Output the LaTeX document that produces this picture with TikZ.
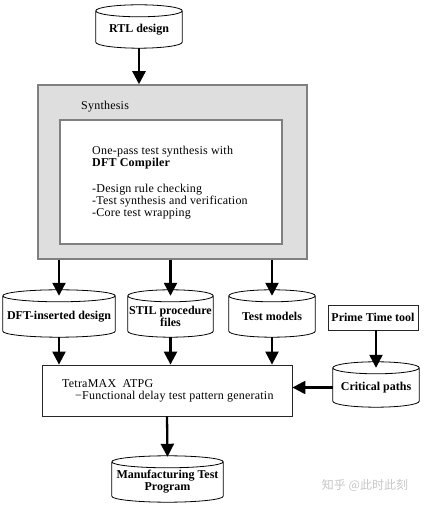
\documentclass[tikz,border=0pt]{standalone}
\usepackage{fontspec}
\setmainfont{Liberation Serif}
\newfontfamily\cjk{Noto Sans CJK SC}
\newfontfamily\spaced[LetterSpace=1.8]{Liberation Serif}
\usetikzlibrary{arrows.meta,calc}
\begin{document}
\begin{tikzpicture}[x=1pt,y=1pt,
  cyl/.style={inner sep=0pt, font=\fontsize{12}{12}\selectfont\bfseries, align=center},
  cylline/.style={draw=black, line width=0.8pt},
  plainbox/.style={draw=black!85, line width=0.8pt, inner sep=0pt},
  flow/.style={line width=2.3pt, -{Triangle[width=13pt,length=13pt]}},
  txt/.style={font=\spaced\fontsize{12}{12}\selectfont, inner sep=0pt, align=left}
]
\useasboundingbox (0,0) rectangle (425,505);
\fill[white] (0,0) rectangle (425,505);

% Synthesis area
\node[draw=black!50, fill=black!13, line width=1.5pt, minimum width=269pt, minimum height=174pt, inner sep=0pt] (synth) at (172.5,333) {};
\node[draw=black!50, fill=white, line width=1.2pt, minimum width=222pt, minimum height=124pt, inner sep=0pt] (inner) at (171,323) {};
\node[txt, anchor=west] (synlab) at (81,398) {Synthesis};
\node[txt, anchor=north west] (syntext) at (92,359) {One-pass test synthesis with\\
\textbf{DFT Compiler}\\[14pt]
-Design rule checking\\
-Test synthesis and verification\\
-Core test wrapping};

% cylinders (node = body, outline drawn below)
\node[cyl, minimum width=86pt, minimum height=25pt] (rtl) at (139,475.5) {RTL design};
\node[cyl, minimum width=112pt, minimum height=29pt] (dft) at (59,188.5) {DFT-inserted design};
\node[cyl, minimum width=85pt, minimum height=29pt] (stil) at (170.5,188.5) {STIL procedure\\files};
\node[cyl, minimum width=86pt, minimum height=29pt] (tm) at (272,188.5) {Test models};
\node[cyl, minimum width=86pt, minimum height=27pt] (crit) at (376,117.5) {Critical paths};
\node[cyl, minimum width=111pt, minimum height=28pt] (mtp) at (167.5,23) {Manufacturing Test\\Program};

\foreach \c in {rtl,dft,stil,tm,crit,mtp}{
  \draw[cylline] let \p1=(\c.north west), \p2=(\c.south east), \n1={(\x2-\x1)/2} in
    (\x1,\y1+6pt) arc[start angle=180,end angle=-180,x radius=\n1,y radius=6pt]
    (\x1,\y1+6pt) -- (\x1,\y2) arc[start angle=180,end angle=360,x radius=\n1,y radius=6pt] -- (\x2,\y1+6pt);
}

% boxes
\node[plainbox, minimum width=90pt, minimum height=25pt, font=\fontsize{12}{12}\selectfont\bfseries] (pt) at (373,187.5) {Prime Time tool};
\node[plainbox, minimum width=250pt, minimum height=51pt] (tetra) at (167,114.5) {};
\node[txt, anchor=north west] (tetratext) at (62,126) {TetraMAX\ \ ATPG\\\hspace*{13pt}−Functional delay test pattern generatin};

% arrows
\draw[flow] ([yshift=-6pt]rtl.south) -- (rtl.south |- synth.north);
\draw[flow] (synth.south -| dft) -- ([yshift=6pt]dft.north);
\draw[flow] (synth.south -| stil) -- ([yshift=6pt]stil.north);
\draw[flow] (synth.south -| tm) -- ([yshift=6pt]tm.north);
\draw[flow] ([yshift=-6pt]dft.south) -- (dft.south |- tetra.north);
\draw[flow] ([yshift=-6pt]stil.south) -- (stil.south |- tetra.north);
\draw[flow] ([yshift=-6pt]tm.south) -- (tm.south |- tetra.north);
\draw[flow] (pt.south -| crit) -- ([yshift=6pt]crit.north);
\draw[flow] (crit.west) -- (crit.west -| tetra.east);
\draw[flow] (tetra.south) -- ([yshift=11pt]mtp.north);

% watermark
\node[font=\cjk\fontsize{12}{12}\selectfont, text=black!22, inner sep=0pt] (wm) at (365,20) {知乎 @此时此刻};
\end{tikzpicture}
\end{document}
